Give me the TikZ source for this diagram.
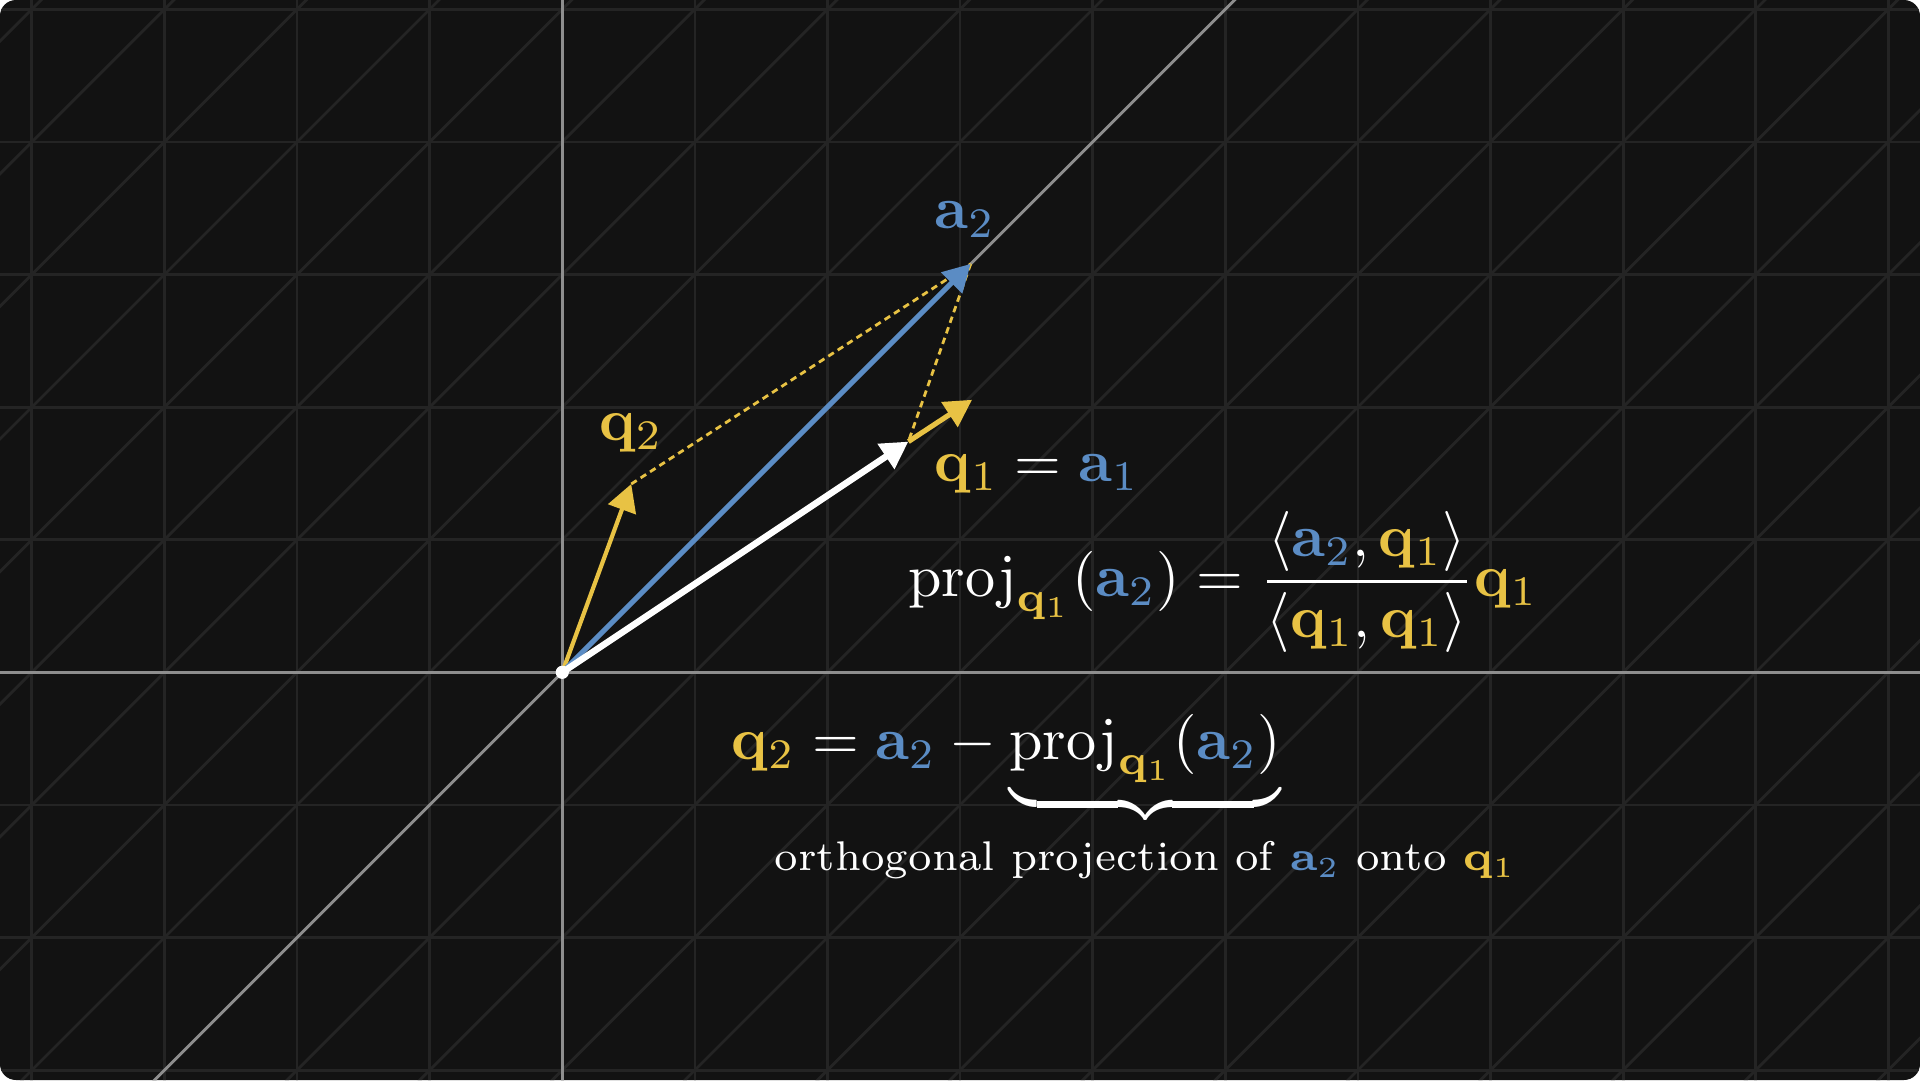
\RequirePackage{fix-cm}
\documentclass[tikz,border=0pt]{standalone}
\usepackage{amsmath}
\usetikzlibrary{arrows.meta, positioning}

\definecolor{bgdark}{HTML}{121212}
\definecolor{gridgray}{HTML}{242424}
\definecolor{axisgray}{HTML}{8E8E8E}
\definecolor{vecblue}{HTML}{5B8CC4}
\definecolor{vecyellow}{HTML}{E8C244}

\newcommand{\qy}[1]{\textcolor{vecyellow}{\mathbf{q}_{#1}}}
\newcommand{\ab}[1]{\textcolor{vecblue}{\mathbf{a}_{#1}}}

\begin{document}
\begin{tikzpicture}[
    gridline/.style={draw=gridgray, line width=0.6pt},
    axisline/.style={draw=axisgray, line width=0.6pt},
    vec/.style={-{Triangle[length=5.8pt,width=6.2pt]}, line width=1pt},
    helper/.style={draw=vecyellow, line width=0.6pt, dash pattern=on 1.4pt off 1pt},
    lbl/.style={inner sep=0pt, text=white, scale=1.29}
]

    % Frame
    \path[use as bounding box] (-4.2406,-3.0747) rectangle (10.2390,5.0701);
    \fill[white] (-4.2406,-3.0747) rectangle (10.2390,5.0701);
    \fill[bgdark, rounded corners=0.12cm] (-4.2406,-3.0747) rectangle (10.2390,5.0701);

    \begin{scope}
        \clip[rounded corners=0.12cm] (-4.2406,-3.0747) rectangle (10.2390,5.0701);
        % Grid and diagonals
        \foreach \x in {-4,...,10} \draw[gridline] (\x,-3.2) -- (\x,5.2);
        \foreach \y in {-3,...,5} \draw[gridline] (-4.3,\y) -- (10.3,\y);
        \foreach \k in {-10,...,14} \draw[gridline] (\k-3.2,-3.2) -- (\k+5.2,5.2);
        % Axes
        \draw[axisline] (-4.3,0) -- (10.3,0);
        \draw[axisline] (0,-3.2) -- (0,5.2);
        \draw[axisline] (-3.2,-3.2) -- (5.2,5.2);
    \end{scope}

    % Vectors
    \coordinate (O) at (0,0);
    \coordinate (a2) at (3.08,3.08);
    \coordinate (p) at (2.61,1.74);
    \coordinate (q1) at (3.09,2.055);
    \coordinate (q2) at (0.52,1.42);

    \draw[helper] (q2) -- (a2);
    \draw[helper] (a2) -- (p);
    \draw[vec, draw=vecyellow, fill=vecyellow, line width=0.9pt] (O) -- (q2);
    \draw[vec, draw=vecblue, fill=vecblue, line width=1.1pt] (O) -- (a2);
    \draw[vec, draw=vecyellow, fill=vecyellow, line width=1.1pt] (p) -- (q1);
    \draw[vec, draw=white, fill=white, line width=1.4pt] (O) -- (p);
    \fill[white] (O) circle (0.05);

    % Labels
    \node[lbl, anchor=base west] (a2lbl) at (2.80,3.35) {$\ab2$};
    \node[lbl, anchor=base west] (q2lbl) at (0.27,1.75) {$\qy2$};
    \node[lbl, anchor=base west] (q1lbl) at (2.80,1.44) {$\qy1 = \ab1$};
    \node[lbl, anchor=base west] (projlbl) at (2.60,0.57)
        {$\mathrm{proj}_{\qy1}(\ab2) = \dfrac{\langle \ab2, \qy1 \rangle}{\langle \qy1, \qy1 \rangle}\qy1$};
    \node[lbl, anchor=base west] (gslbl) at (1.27,-0.66)
        {$\qy2 = \ab2 - \underbrace{\mathrm{proj}_{\qy1}(\ab2)}_{\makebox[0pt]{\fontsize{6.9}{8}\selectfont\rule{0pt}{5.7pt}orthogonal projection of $\ab2$ onto $\qy1$}}$};

\end{tikzpicture}
\end{document}
